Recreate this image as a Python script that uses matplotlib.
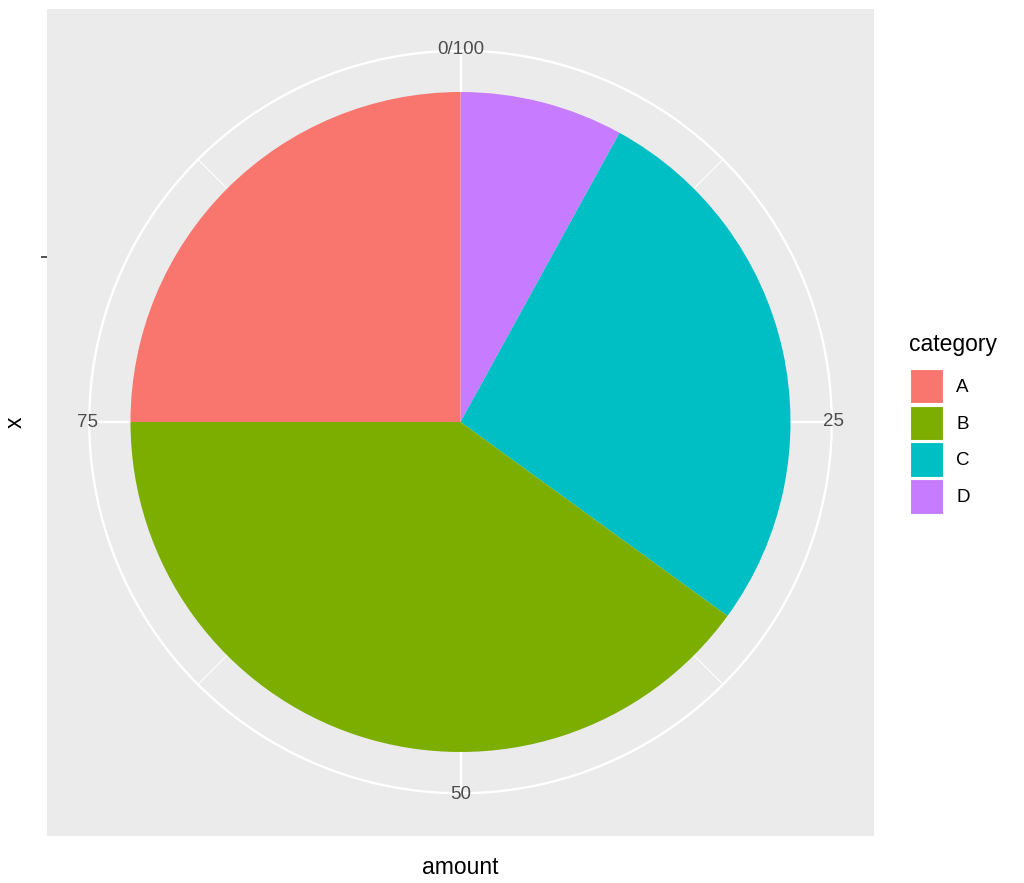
import numpy as np
import matplotlib.pyplot as plt
from matplotlib.patches import Patch

plt.rcParams['font.family'] = ['Liberation Sans', 'DejaVu Sans']

categories = ['A', 'B', 'C', 'D']
amounts = [25, 40, 27, 8]
colors = ['#F8766D', '#7CAE00', '#00BFC4', '#C77CFF']
major_ticks = [0, 25, 50, 75]
tick_labels = ['0/100', '25', '50', '75']
minor_ticks = [12.5, 37.5, 62.5, 87.5]
total = 100.0

fig = plt.figure(figsize=(10.24, 8.83), dpi=100)
ax = fig.add_axes([47/1024, (883-836)/883, 827/1024, 828/883])
ax.set_facecolor('#EBEBEB')
for s in ax.spines.values():
    s.set_visible(False)

outer = 0.45/0.4

def ang(v):
    return np.pi/2 - 2*np.pi*v/total

# theta grid lines
for v in minor_ticks:
    a = ang(v)
    ax.plot([0, outer*np.cos(a)], [0, outer*np.sin(a)], color='white', lw=0.8, zorder=1)
for v in major_ticks:
    a = ang(v)
    ax.plot([0, outer*np.cos(a)], [0, outer*np.sin(a)], color='white', lw=1.7, zorder=1)
t = np.linspace(0, 2*np.pi, 400)
ax.plot(outer*np.cos(t), outer*np.sin(t), color='white', lw=1.7, zorder=1)
ax.plot(0.5*np.cos(t), 0.5*np.sin(t), color='white', lw=1.7, zorder=1)

# pie, clockwise from top: last category first
ax.pie(amounts[::-1], colors=colors[::-1], startangle=90, counterclock=False,
       radius=1, wedgeprops=dict(linewidth=0, zorder=2), frame=True)

for v, lab in zip(major_ticks, tick_labels):
    a = ang(v)
    r = outer + 0.005
    ax.text(r*np.cos(a), r*np.sin(a), lab, ha='center', va='center',
            fontsize=13.5, color='#4D4D4D', zorder=3)

half = 413.5/330
ax.set_xlim(-half, half)
ax.set_ylim(-half, half)
ax.set_aspect('equal')
ax.set_xticks([])
ax.set_yticks([0.5])
ax.set_yticklabels([''])
ax.tick_params(axis='y', length=4.5, width=1.2, color='#333333')
ax.set_xlabel('amount', fontsize=16.5, va='center')
ax.set_ylabel('x', fontsize=16.5, va='center')
ax.xaxis.set_label_coords(0.5, (836-868)/828)
ax.yaxis.set_label_coords((15-47)/827, 0.5)

handles = [Patch(facecolor=c, edgecolor='white', linewidth=0.8) for c in colors]
leg = fig.legend(handles, categories, title='category', loc='upper left',
                 bbox_to_anchor=(902/1024, 1 - 326/883), frameon=False,
                 fontsize=13.5, title_fontsize=16.5, handlelength=1.8,
                 handleheight=2.45, labelspacing=0.12, handletextpad=0.7,
                 borderaxespad=0)
leg._legend_box.align = 'left'
leg._legend_box.sep = 9

fig.savefig('out.png', dpi=100)
